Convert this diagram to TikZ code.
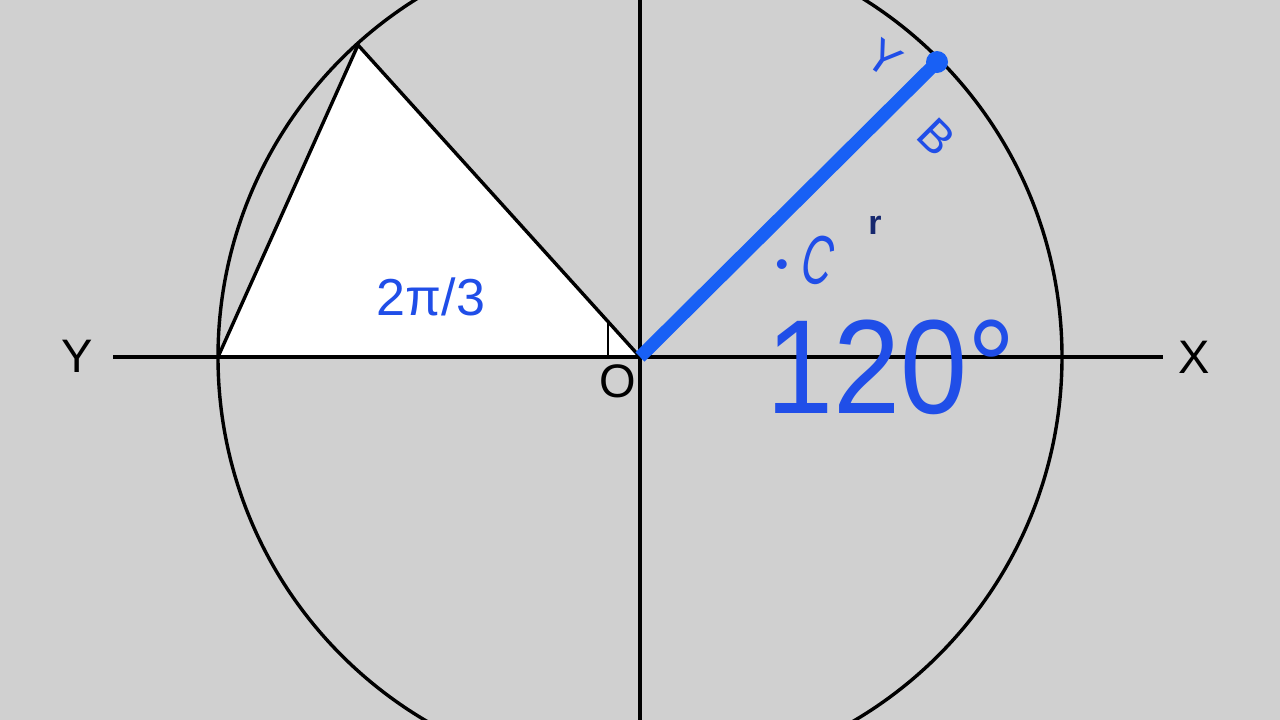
\documentclass[tikz,border=0pt]{standalone}
\usepackage{fontspec}
\setmainfont{Liberation Sans}
\definecolor{bg}{RGB}{208,208,208}
\definecolor{tblue}{RGB}{32,78,232}
\definecolor{lblue}{RGB}{24,96,245}
\definecolor{navy}{RGB}{22,40,110}
\newcommand{\fs}[1]{\fontsize{#1}{#1}\selectfont}
\begin{document}
\begin{tikzpicture}[x=1pt,y=-1pt,
  blk/.style={line width=3.4pt,draw=black},
  lbl/.style={inner sep=0pt,outer sep=0pt},
  btxt/.style={lbl,text=tblue}]
\useasboundingbox (0,0) rectangle (1280,720);
\fill[bg] (0,0) rectangle (1280,720);
\coordinate (O) at (640,357);
\coordinate (A) at (218,357);
\coordinate (T) at (358,45);
\coordinate (P) at (937,62);
\coordinate (Ym) at (113,357);
\coordinate (Xm) at (1163,357);
\coordinate (Vt) at (640,0);
\coordinate (Vb) at (640,720);
\coordinate (R1) at (608,357);
\coordinate (R2) at (608,322);
\begin{scope}
\clip (0,0) rectangle (1280,720);
\fill[white] (O) -- (A) -- (T) -- cycle;
\draw[blk] (O) circle[radius=422];
\draw[blk] (Ym) -- (Xm);
\draw[blk] (Vt) -- (Vb);
\draw[blk,line join=round] (O) -- (A) -- (T) -- cycle;
\end{scope}
\draw[black,line width=2.8pt] (R1) -- (R2);
\draw[lblue,line width=13pt] (O) -- (P);
\fill[lblue] (P) circle[radius=11];
\node[lbl,anchor=base] (lY) at (77,372) {\fs{47}Y};
\node[lbl,anchor=base] (lX) at (1194,373) {\fs{47}X};
\node[lbl,anchor=base] (lO) at (618,397) {\fs{47}O};
\node[btxt,anchor=base] (frac) at (431,315) {\fs{52}2π/3};
\node[btxt,anchor=base,xscale=0.9] (deg) at (891,413) {\fs{134}120°};
\node[btxt,rotate=-35] (rY) at (884,58) {\fs{46}Y};
\node[btxt,rotate=-45] (rB) at (937,137) {\fs{46}B};
\node[btxt] (dot) at (782,268) {\fs{36}•};
\node[btxt,rotate=-15,xscale=0.6] (hook) at (818,260) {\fs{70}C};
\node[lbl,text=navy] (rr) at (875,225) {\fs{34}\bfseries r};
\end{tikzpicture}
\end{document}
